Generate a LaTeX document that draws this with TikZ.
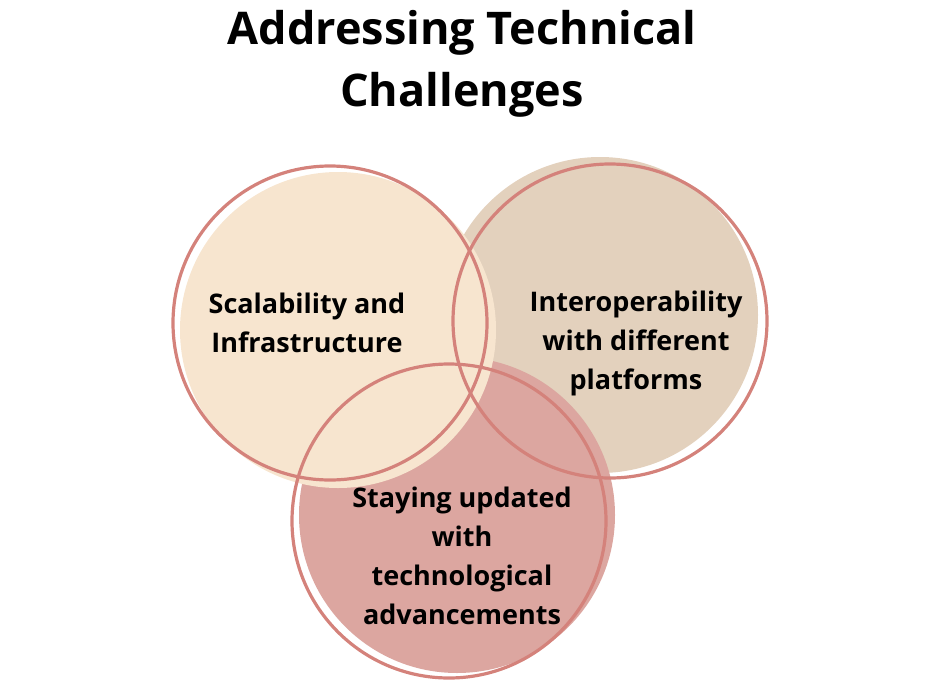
\documentclass[tikz,border=0pt]{standalone}
\usepackage{fontspec}
\setmainfont{Open Sans}
\definecolor{cream}{HTML}{F7E5CF}
\definecolor{sand}{HTML}{E3D1BD}
\definecolor{rose}{HTML}{DCA6A0}
\definecolor{rim}{HTML}{D4827B}
\tikzset{
	label text/.style={align=center, font=\bfseries\fontsize{27}{39}\selectfont},
	title text/.style={align=center, font=\bfseries\fontsize{45}{62}\selectfont}
}
\begin{document}
\begin{tikzpicture}[x=1pt,y=-1pt]
\useasboundingbox (0,0) rectangle (940,683);

\node[title text] (title) at (462,64) {Addressing Technical\\Challenges};

% filled discs, slightly off the rims
\fill[sand] (600,315) circle (158pt);
\fill[rose] (457,515) circle (158pt);
\fill[cream] (338,330) circle (158pt);

\foreach \cx/\cy in {330/323, 610/321, 449/521}{
	\draw[rim, line width=3.2pt] (\cx,\cy) circle (157pt);}

\node[label text] (scale) at (307,323) {Scalability and\\Infrastructure};
\node[label text] (inter) at (636,343) {Interoperability\\with different\\platforms};
\node[label text] (stay) at (462,556) {Staying updated\\with\\technological\\advancements};

\end{tikzpicture}
\end{document}
